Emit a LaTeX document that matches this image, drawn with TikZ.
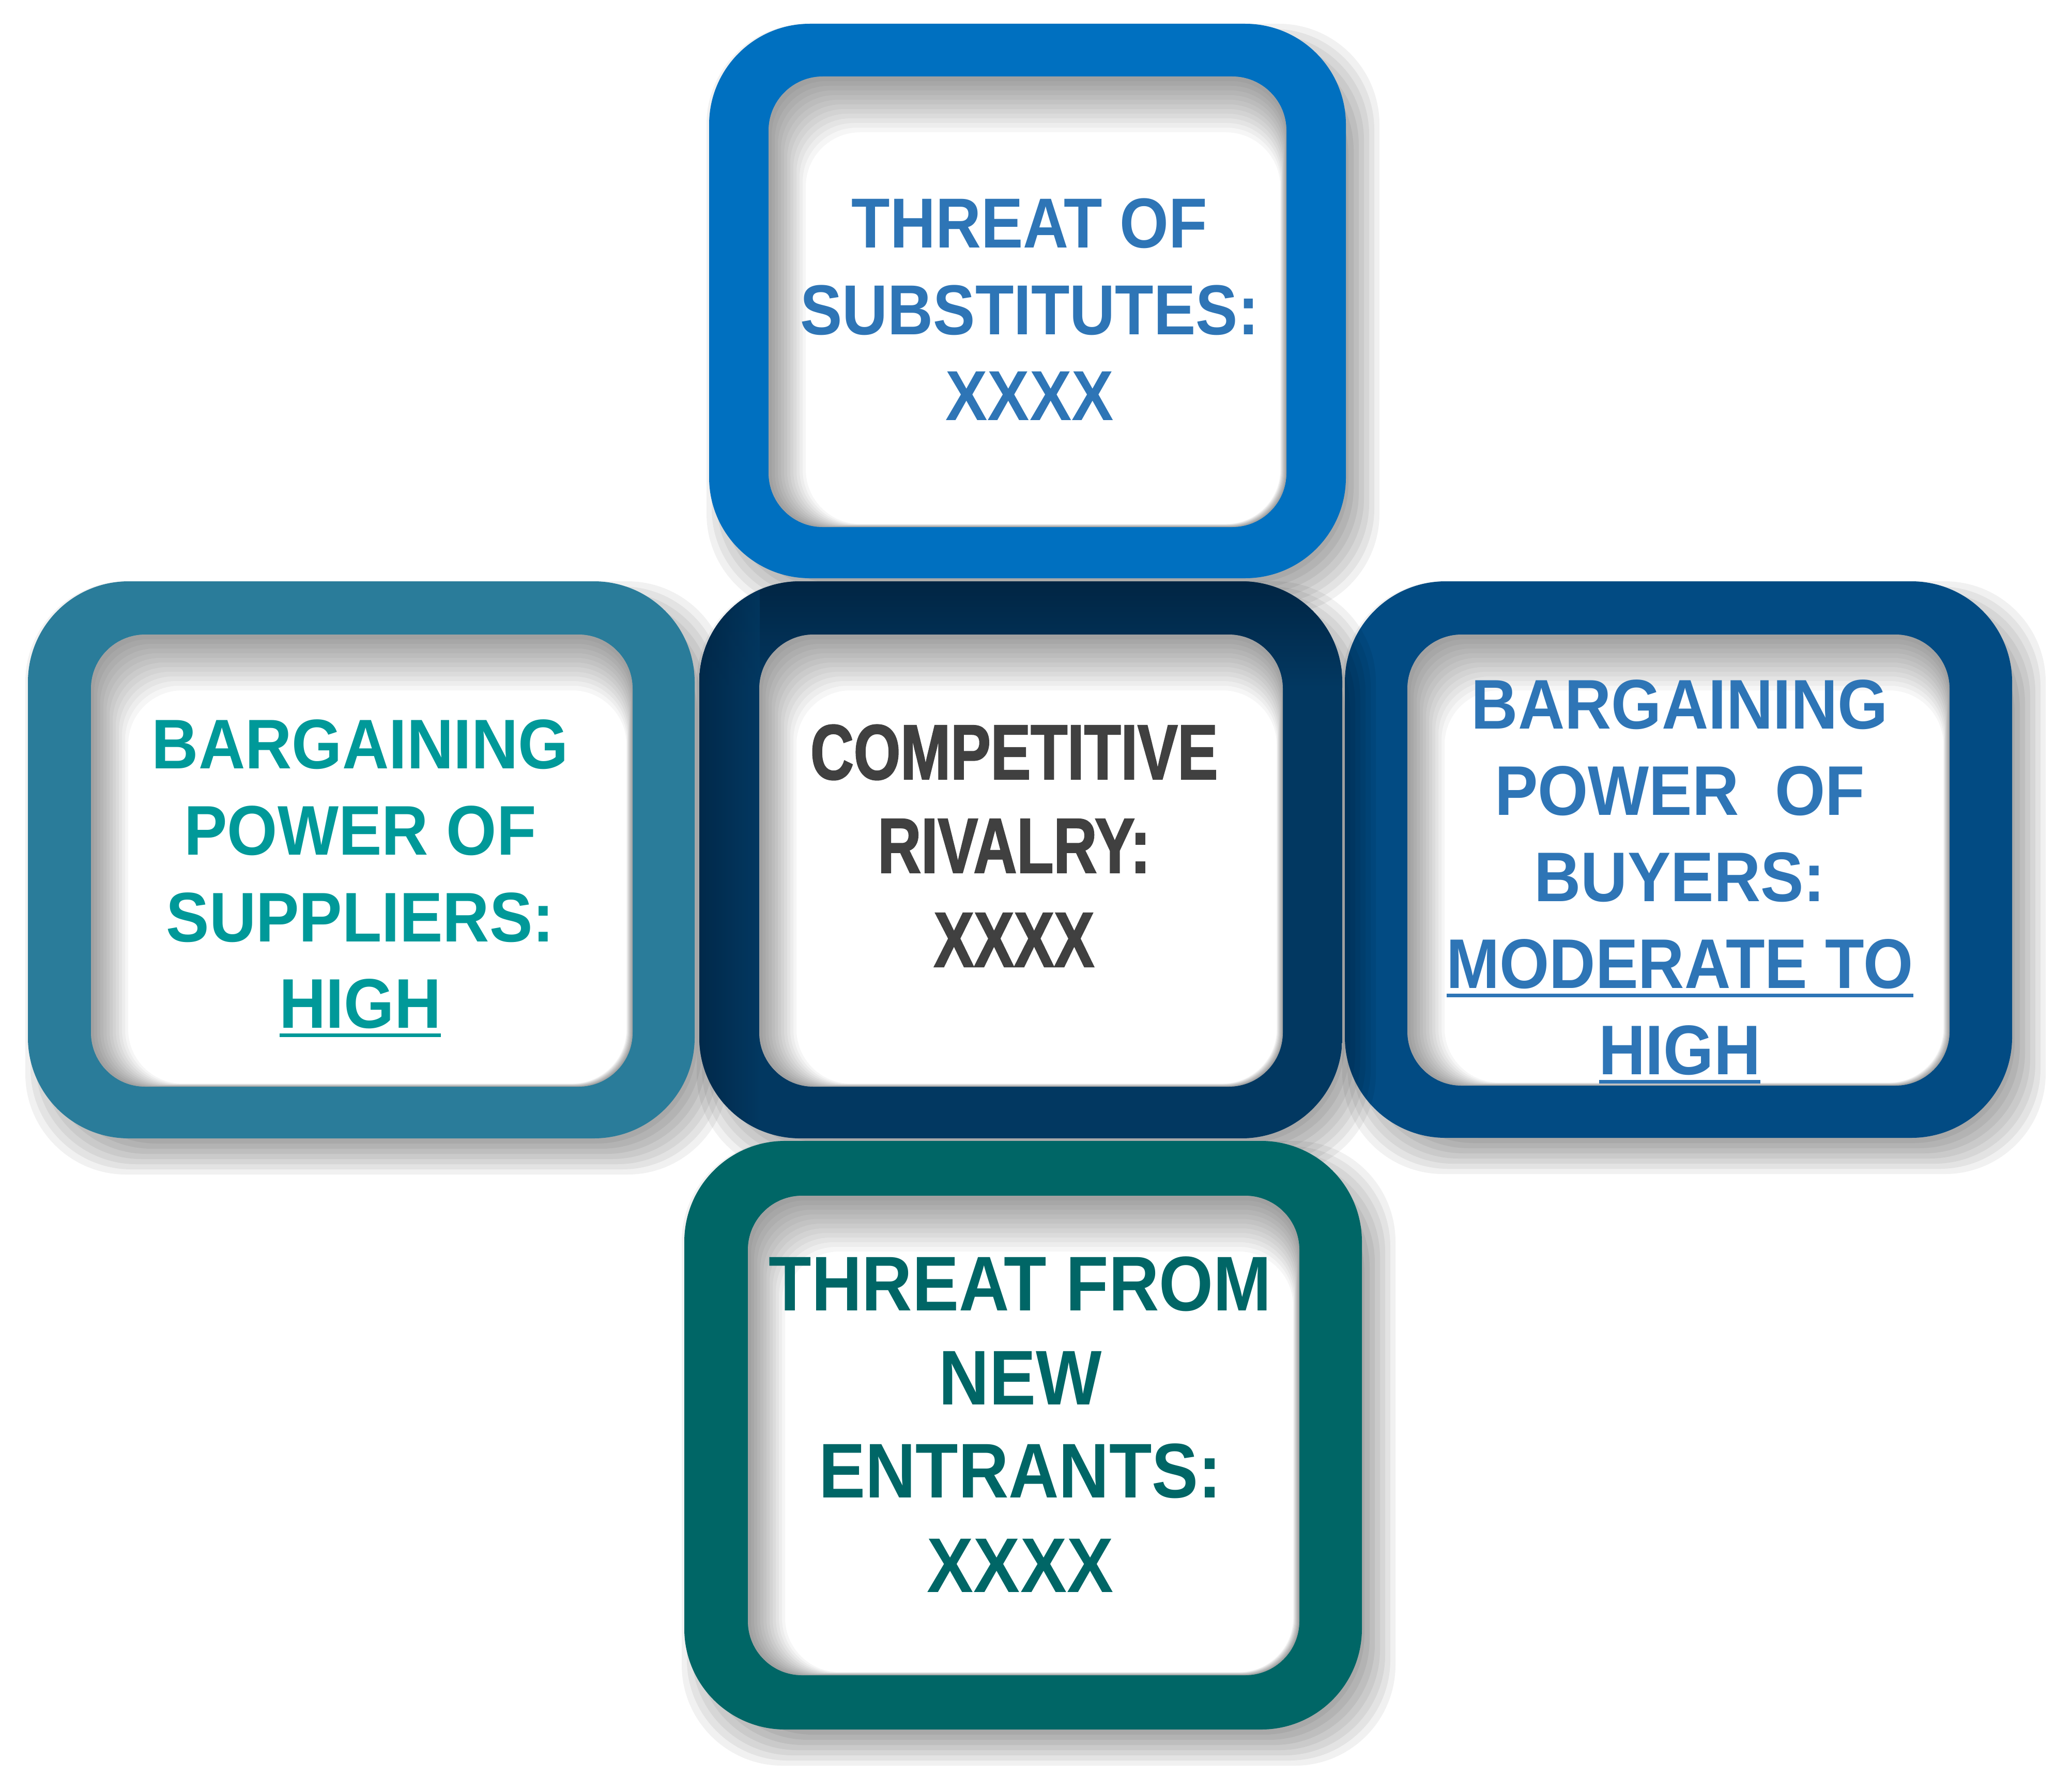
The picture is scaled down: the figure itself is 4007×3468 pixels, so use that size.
\documentclass[tikz,border=0pt]{standalone}
\usepackage{fontspec}
\newfontfamily\ftop[FakeStretch=0.89]{Liberation Sans}
\newfontfamily\fside[FakeStretch=0.92]{Liberation Sans}
\newfontfamily\fbot[FakeStretch=0.90]{Liberation Sans}
\newfontfamily\fctr[FakeStretch=0.77,FakeBold=1.6]{Liberation Sans}
\definecolor{topB}{RGB}{0,112,192}
\definecolor{topT}{RGB}{46,117,182}
\definecolor{leftB}{RGB}{42,124,154}
\definecolor{leftT}{RGB}{0,153,153}
\definecolor{ctrB}{RGB}{2,56,97}
\definecolor{ctrBd}{RGB}{1,36,66}
\definecolor{ctrT}{RGB}{64,64,64}
\definecolor{rightB}{RGB}{2,75,131}
\definecolor{rightT}{RGB}{46,117,182}
\definecolor{botB}{RGB}{0,102,102}
\definecolor{botT}{RGB}{0,102,102}
\newsavebox\ulbox
\newcommand\ulin[1]{\sbox\ulbox{#1}\rlap{\rule[-18pt]{\wd\ulbox}{7pt}}\usebox\ulbox}
% soft drop shadow towards lower right
\newcommand\dropsh[4]{%
  \foreach \k in {0,...,9}{%
    \fill[black,opacity=0.055,rounded corners=195pt]
      ({#1+30-35+\k*10},{#2+35-35+\k*10}) rectangle ({#3+30+35-\k*10},{#4+35+35-\k*10});
  }}
% inner shadow, mostly along the top and left edges
\newcommand\innersh[4]{%
  \begin{scope}
    \clip[rounded corners=105pt] (#1,#2) rectangle (#3,#4);
    \foreach \k in {1,...,12}{%
      \fill[black,opacity=0.035,even odd rule] ({#1-60},{#2-60}) rectangle ({#3+60},{#4+60})
        [rounded corners=105pt] ({#1+\k*6},{#2+\k*9}) rectangle ({#3-\k*1},{#4-\k*0.5});
    }
  \end{scope}}
\tikzset{
  txtline/.style={anchor=base,inner sep=0pt,align=center},
  outerbox/.style={rounded corners=195pt},
  innerbox/.style={fill=white,rounded corners=105pt},
}
\begin{document}
\begin{tikzpicture}[x=1pt,y=-1pt]
\useasboundingbox (0,0) rectangle (4007,3468);
\fill[white] (0,0) rectangle (4007,3468);

% ---- top: threat of substitutes
\dropsh{1372}{46}{2604}{1119}
\fill[outerbox,topB] (1372,46) rectangle (2604,1119);
\fill[innerbox] (1487,148) rectangle (2489,1020);
\innersh{1487}{148}{2489}{1020}
\begin{scope}[every node/.style={txtline,text=topT,font=\ftop\bfseries\fontsize{137}{137}\selectfont}]
\node (s1) at (1992,479) {THREAT OF};
\node (s2) at (1992,647) {SUBSTITUTES:};
\node (s3) at (1992,813) {XXXX};
\end{scope}

% ---- left: suppliers
\dropsh{54}{1125}{1344}{2203}
\fill[outerbox,leftB] (54,1125) rectangle (1344,2203);
\fill[innerbox] (176,1228) rectangle (1224,2103);
\innersh{176}{1228}{1224}{2103}
\begin{scope}[every node/.style={txtline,text=leftT,font=\fside\bfseries\fontsize{136}{136}\selectfont}]
\node (p1) at (697,1487) {BARGAINING};
\node (p2) at (697,1654) {POWER OF};
\node (p3) at (697,1822) {SUPPLIERS:};
\node (p4) at (697,1989) {\ulin{HIGH}};
\end{scope}

% ---- right: buyers
\dropsh{2602}{1125}{3893}{2202}
\fill[outerbox,rightB] (2602,1125) rectangle (3893,2202);
\fill[innerbox] (2723,1228) rectangle (3772,2101);
\innersh{2723}{1228}{3772}{2101}
\begin{scope}[every node/.style={txtline,text=rightT,font=\fside\bfseries\fontsize{136}{136}\selectfont}]
\node (b1) at (3250,1410) {BARGAINING};
\node (b2) at (3250,1577) {POWER\ \ OF};
\node (b3) at (3250,1744) {BUYERS:};
\node (b4) at (3250,1912) {\addfontfeatures{FakeStretch=0.91}\ulin{MODERATE TO}};
\node (b5) at (3250,2079) {\ulin{HIGH}};
\end{scope}

% ---- center: rivalry
\dropsh{1353}{1125}{2597}{2203}
\begin{scope}
  \clip[outerbox] (1353,1125) rectangle (2597,2203);
  \fill[ctrB] (1353,1125) rectangle (2597,2203);
  \shade[top color=ctrBd,bottom color=ctrB] (1340,1115) rectangle (2610,1330);
  \shade[left color=ctrBd,right color=ctrB,opacity=0.8] (1343,1125) rectangle (1470,2203);
\end{scope}
\fill[innerbox] (1469,1228) rectangle (2482,2103);
\innersh{1469}{1228}{2482}{2103}
\begin{scope}[every node/.style={txtline,text=ctrT,font=\fctr\bfseries\fontsize{151}{151}\selectfont}]
\node (r1) at (1962,1508) {COMPETITIVE};
\node (r2) at (1962,1689) {RIVALRY:};
\node (r3) at (1962,1871) {XXXX};
\end{scope}

% ---- bottom: new entrants
\dropsh{1324}{2208}{2635}{3347}
\fill[outerbox,botB] (1324,2208) rectangle (2635,3347);
\fill[innerbox] (1447,2314) rectangle (2514,3242);
\innersh{1447}{2314}{2514}{3242}
\begin{scope}[every node/.style={txtline,text=botT,font=\fbot\bfseries\fontsize{150}{150}\selectfont}]
\node (e1) at (1974,2536) {THREAT FROM};
\node (e2) at (1974,2718) {NEW};
\node (e3) at (1974,2898) {ENTRANTS:};
\node (e4) at (1974,3081) {XXXX};
\end{scope}
\end{tikzpicture}
\end{document}
